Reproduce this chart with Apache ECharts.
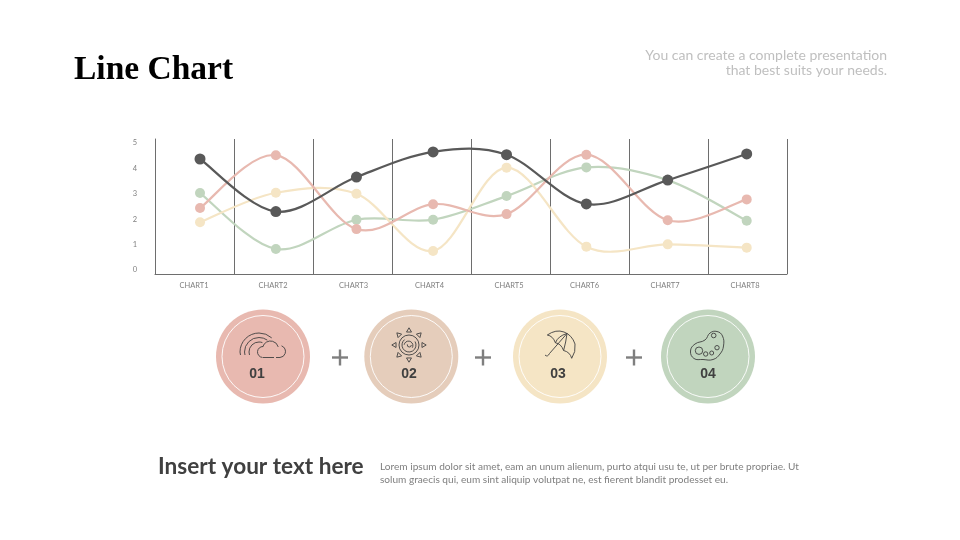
<!DOCTYPE html>
<html><head><meta charset="utf-8">
<style>html,body{margin:0;padding:0;background:#fff}#c{width:960px;height:540px}</style>
<script src="https://cdn.jsdelivr.net/npm/echarts@6/dist/echarts.min.js"></script>
</head><body><div id="c"></div>
<script>
const categories = ['CHART1','CHART2','CHART3','CHART4','CHART5','CHART6','CHART7','CHART8'];
const yTicks = [0,1,2,3,4,5];
// where each point sits along the eight category bands
const bandReadings = [0.57,1.53,2.55,3.52,4.45,5.46,6.49,7.49];
const pinkValues  = [2.44,4.52,1.61,2.59,2.20,4.54,1.96,2.78];
const greenValues = [3.03,0.83,1.98,1.98,2.91,4.04,3.54,1.94];
const creamValues = [1.88,3.04,3.00,0.75,4.03,0.92,1.01,0.88];
const darkValues  = [4.37,2.30,3.66,4.65,4.54,2.60,3.54,4.57];
const badgeNumbers = ['01','02','03','04'];
const titleText = 'Line Chart';
const subtitleLines = ['You can create a complete presentation','that best suits your needs.'];
const headingText = 'Insert your text here';
const bodyLines = ['Lorem ipsum dolor sit amet, eam an unum alienum, purto atqui usu te, ut per brute propriae. Ut','solum graecis qui, eum sint aliquip volutpat ne, est fierent blandit prodesset eu.'];

const PINK='#E8B9B0', SAND='#E5CDBB', CREAM='#F5E5C5', GREEN='#C1D5BE', DARK='#595959', INK='#404040', FRAME='#6e6e6e';
const labelNudge=[-0.5,-0.5,1,-2,-1.5,-5,-3.5,-2.5];
const rich={};
labelNudge.forEach((d,i)=>{rich['s'+i]={fontFamily:'Lato',fontSize:7.5,color:'#808080',padding:d<0?[0,-2*d,0,0]:[0,0,0,2*d]};});

// The original curve overshoots between points, which the line series' own
// smoothing clamps away, so the stroke is a custom series through the same axes.
function curveSeries(name,vals,color,lw,z){
  const data=vals.map((v,i)=>[bandReadings[i],v]);
  return {name:name+' curve',type:'custom',coordinateSystem:'cartesian2d',xAxisIndex:1,yAxisIndex:0,z,silent:true,
    data,encode:{x:0,y:1},
    renderItem(params,api){
      const i=params.dataIndex, n=data.length;
      if(i>=n-1) return null;
      const p=k=>api.coord(data[Math.max(0,Math.min(n-1,k))]);
      const a=p(i-1),b=p(i),c=p(i+1),d=p(i+2);
      return {type:'bezierCurve',
        shape:{x1:b[0],y1:b[1],x2:c[0],y2:c[1],
          cpx1:b[0]+(c[0]-a[0])/6,cpy1:b[1]+(c[1]-a[1])/6,
          cpx2:c[0]-(d[0]-b[0])/6,cpy2:c[1]-(d[1]-b[1])/6},
        style:{stroke:color,lineWidth:lw,fill:null,lineCap:'round'}};
    }};
}
function markerSeries(name,vals,color,size,z){
  return {name,type:'line',xAxisIndex:1,yAxisIndex:0,clip:false,symbol:'circle',symbolSize:size,z,
    data:vals.map((v,i)=>[bandReadings[i],v]),
    lineStyle:{opacity:0,width:0},itemStyle:{color,opacity:1},emphasis:{disabled:true}};
}
const ln={stroke:'#3f3f3f',lineWidth:0.9,fill:null};
const g=[];
const add=(o)=>{g.push(Object.assign({silent:true,z:5},o));};
const T=(x,y,text,style)=>add({type:'text',x,y,style:Object.assign({text,verticalAlign:'middle'},style)});
const circ=(cx,cy,r,style)=>add({type:'circle',shape:{cx,cy,r},style});
const arc=(cx,cy,r,a,b)=>add({type:'arc',shape:{cx,cy,r,startAngle:a*Math.PI/180,endAngle:b*Math.PI/180,clockwise:true},style:Object.assign({},ln)});
const line=(x1,y1,x2,y2,s)=>add({type:'line',shape:{x1,y1,x2,y2},style:Object.assign({},ln,s||{})});
const bez=(x1,y1,cpx1,cpy1,x2,y2)=>add({type:'bezierCurve',shape:{x1,y1,cpx1,cpy1,x2,y2},style:Object.assign({},ln)});
const pgon=(points,smooth)=>add({type:'polygon',shape:{points,smooth:smooth||0},style:Object.assign({},ln)});

T(74,70,titleText,{fontFamily:'Liberation Serif',fontWeight:'bold',fontSize:33.5,fill:'#000'});
T(887,55,subtitleLines[0],{fontFamily:'Lato',fontSize:14,fill:'#bfbfbf',align:'right'});
T(887,70,subtitleLines[1],{fontFamily:'Lato',fontSize:14,fill:'#bfbfbf',align:'right'});
T(158,467,headingText,{fontFamily:'Lato',fontWeight:'bold',fontSize:22.6,fill:INK});
T(380,467,bodyLines[0],{fontFamily:'Lato',fontSize:10.1,fill:'#7f7f7f'});
T(380,480,bodyLines[1],{fontFamily:'Lato',fontSize:10.1,fill:'#7f7f7f'});

[[263,PINK,257],[411.3,SAND,409],[560,CREAM,558],[708,GREEN,708]].forEach((c,i)=>{
  circ(c[0],356.5,47,{fill:c[1]});
  circ(c[0],356.5,41,{fill:null,stroke:'#fff',lineWidth:0.9});
  T(c[2],374,badgeNumbers[i],{fontFamily:'Liberation Sans',fontWeight:'bold',fontSize:14,fill:INK,align:'center'});
});
[340,483,634].forEach(x=>{
  line(x-8,357.5,x+8,357.5,{stroke:'#7f7f7f',lineWidth:2.4});
  line(x,349.5,x,365.5,{stroke:'#7f7f7f',lineWidth:2.4});
});
// 01 rainbow + cloud
arc(259,352,19,180,312); arc(259,352,14.5,180,305); arc(259,352,10,180,290);
line(240,352,240.5,355); line(244.5,352,245,355); line(249,352,249.5,355);
arc(263,352,5.5,95,270); arc(270.5,349,8,195,345); arc(279.5,351.5,6,-70,85);
line(263,357.5,274,357.5); line(276,357.5,280,357.5);
// 02 sun
const sc=[409,345];
circ(sc[0],sc[1],10,ln);
arc(409,345,7,-30,230); arc(408.5,345.5,4.4,190,30); arc(409.3,345,2,0,200);
for(let i=0;i<8;i++){
  const a=i*Math.PI/4-Math.PI/2, r1=13.2, r2=17.2, w=0.19;
  pgon([[sc[0]+r1*Math.cos(a-w),sc[1]+r1*Math.sin(a-w)],[sc[0]+r1*Math.cos(a+w),sc[1]+r1*Math.sin(a+w)],[sc[0]+r2*Math.cos(a),sc[1]+r2*Math.sin(a)]]);
}
// 03 umbrella
bez(547.3,335,556,329,564,332); bez(564,332,572,335,575,344); bez(575,344,576,352,571.7,358.3);
bez(547.3,335,553,336,555.4,342.8); bez(555.4,342.8,561,343.5,563.6,350.5); bez(563.6,350.5,570,352,571.7,358.3);
line(567,333.5,549.5,353.5);
bez(567,333.5,558,336,555.4,342.8); bez(567,333.5,566,342,563.6,350.5);
bez(549.5,353.5,547.5,357.5,545,355);
// 04 palette
pgon([[690.5,351],[695,344],[705,340],[710,333],[717,331.5],[722.5,336],[723.5,346],[720,354],[713,359.5],[703,359.5],[694,358.5]],0.45);
circ(699,350.7,3.7,ln); circ(705.7,354,2.2,ln); circ(711.7,353,2,ln); circ(717,347.7,2.2,ln); circ(713.7,335.5,2.3,ln);

const chart=echarts.init(document.getElementById('c'),null,{renderer:'canvas'});
chart.setOption({
  animation:false,backgroundColor:'#fff',
  grid:[{left:155,top:143,width:632,height:127},{left:155,top:139,width:632,height:135}],
  xAxis:[
    {type:'category',gridIndex:1,data:categories,boundaryGap:true,
      axisLine:{show:true,lineStyle:{color:FRAME,width:1}},axisTick:{show:false},
      splitLine:{show:true,interval:0,lineStyle:{color:FRAME,width:1}},
      axisLabel:{interval:0,margin:8,formatter:(v,i)=>`{s${i}|${v}}`,rich}},
    {type:'value',gridIndex:0,min:0,max:8,interval:1,show:false,splitLine:{show:false}}
  ],
  yAxis:[
    {type:'value',gridIndex:0,min:0,max:5,interval:1,axisLine:{show:false},axisTick:{show:false},splitLine:{show:false},
      axisLabel:{margin:18,fontFamily:'Lato',fontSize:7.5,color:'#808080',formatter:v=>yTicks.includes(v)?String(v):''}},
    {type:'value',gridIndex:1,min:0,max:1,axisLine:{show:true,lineStyle:{color:FRAME,width:1}},axisTick:{show:false},axisLabel:{show:false},splitLine:{show:false}}
  ],
  series:[
    curveSeries('Green',greenValues,GREEN,2.2,2), markerSeries('Green',greenValues,GREEN,10,3),
    curveSeries('Cream',creamValues,CREAM,2.2,4), markerSeries('Cream',creamValues,CREAM,10,5),
    curveSeries('Pink',pinkValues,PINK,2.2,6), markerSeries('Pink',pinkValues,PINK,10,7),
    curveSeries('Dark',darkValues,DARK,2.2,8), markerSeries('Dark',darkValues,DARK,11,9)
  ],
  graphic:{elements:g}
});
</script></body></html>
